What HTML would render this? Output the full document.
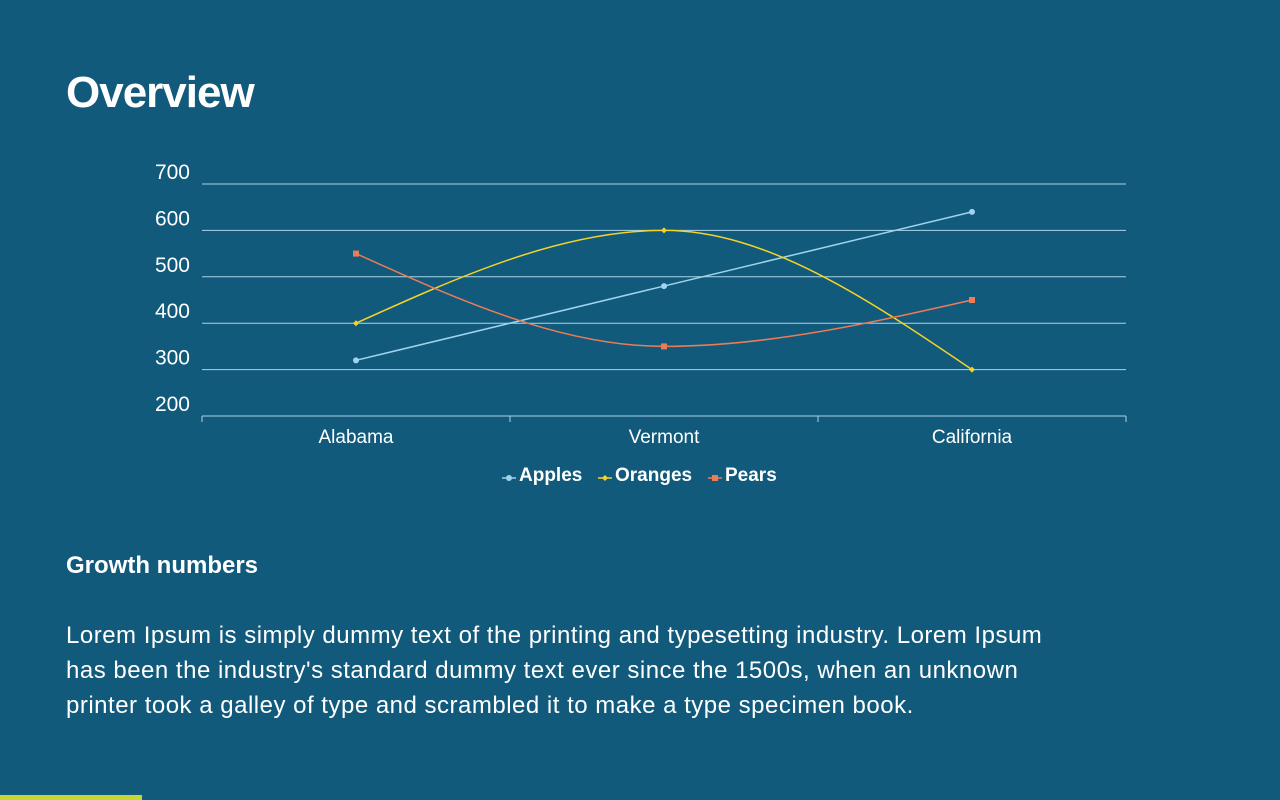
<!DOCTYPE html>
<html><head><meta charset="utf-8"><style>
html,body{margin:0;padding:0}
body{width:1280px;height:800px;background:#115a7b;position:relative;overflow:hidden;font-family:"Liberation Sans",sans-serif;color:#fff}
h1{position:absolute;left:66px;top:68px;margin:0;font-size:44px;font-weight:bold;letter-spacing:-1px}
h2{position:absolute;left:66px;top:552px;margin:0;font-size:24px;font-weight:bold}
p{position:absolute;left:66px;top:618px;margin:0;font-size:24px;line-height:35px;width:1200px;white-space:nowrap;letter-spacing:0.5px}
#bar{position:absolute;left:0;top:795px;width:142px;height:5px;background:#c5d82f}
svg{position:absolute;left:0;top:0}
</style></head><body>
<h1>Overview</h1>
<svg id="chart" width="1280" height="520"></svg>
<h2>Growth numbers</h2>
<p>Lorem Ipsum is simply dummy text of the printing and typesetting industry. Lorem Ipsum<br>has been the industry's standard dummy text ever since the 1500s, when an unknown<br>printer took a galley of type and scrambled it to make a type specimen book.</p>
<div id="bar"></div>
<script>
const categories=["Alabama","Vermont","California"];
const apples=[320,480,640];
const oranges=[400,600,300];
const pears=[550,350,450];
const yTicks=[200,300,400,500,600,700];
const seriesNames=["Apples","Oranges","Pears"];
const NS="http://www.w3.org/2000/svg";
const svg=document.getElementById('chart');
const L=202,R=1126,Y0=416,Y1=184,ymin=200,ymax=700;
const bw=(R-L)/categories.length;
const x=i=>L+bw*(i+0.5);
const y=v=>Y0-(v-ymin)/(ymax-ymin)*(Y0-Y1);
function mk(t,a,p){const e=document.createElementNS(NS,t);for(const k in a)e.setAttribute(k,a[k]);(p||svg).appendChild(e);return e;}
yTicks.forEach(v=>{
  const g=mk('line',{x1:L,x2:R,y1:y(v),y2:y(v),stroke:'#a9d4e8','stroke-width':1});
  
  
  const t=mk('text',{x:190,y:y(v)-5,'text-anchor':'end','font-size':21,fill:'#fff','font-family':'Liberation Sans, sans-serif'});
  t.textContent=v;
  
  
});
for(let i=0;i<=categories.length;i++){
  const tk=mk('line',{x1:L+bw*i,x2:L+bw*i,y1:Y0,y2:Y0+6,stroke:'#a9d4e8'});
  
  
}
categories.forEach((c,i)=>{
  const t=mk('text',{x:x(i),y:443,'text-anchor':'middle','font-size':19,fill:'#fff','font-family':'Liberation Sans, sans-serif'});
  t.textContent=c;
  
  
});
function monotone(pts){
  const n=pts.length,d=[],m=[];
  for(let i=0;i<n-1;i++)d.push((pts[i+1][1]-pts[i][1])/(pts[i+1][0]-pts[i][0]));
  for(let i=0;i<n;i++){
    if(i==0)m.push(d[0]);else if(i==n-1)m.push(d[n-2]);
    else m.push(d[i-1]*d[i]<=0?0:(d[i-1]+d[i])/2);
  }
  if(n>2){ m[0]=(3*d[0]-m[1])/2; m[n-1]=(3*d[n-2]-m[n-2])/2; }
  let s='M'+pts[0][0]+','+pts[0][1];
  for(let i=0;i<n-1;i++){
    const h=(pts[i+1][0]-pts[i][0])/3;
    s+=' C'+(pts[i][0]+h)+','+(pts[i][1]+m[i]*h)+' '+(pts[i+1][0]-h)+','+(pts[i+1][1]-m[i+1]*h)+' '+pts[i+1][0]+','+pts[i+1][1];
  }
  return s;
}
const colors=['#9fd3ee','#f5d327','#ec7c55'];
[apples,oranges,pears].forEach((data,si)=>{
  const pts=data.map((v,i)=>[x(i),y(v)]);
  const p=mk('path',{d:monotone(pts),fill:'none',stroke:colors[si],'stroke-width':1.5});
  
  
  pts.forEach(([px,py])=>{
    let m;
    if(si==0)m=mk('circle',{cx:px,cy:py,r:3,fill:colors[si]});
    else if(si==1)m=mk('path',{d:`M${px},${py-3}L${px+3},${py}L${px},${py+3}L${px-3},${py}Z`,fill:colors[si]});
    else m=mk('rect',{x:px-3,y:py-3,width:6,height:6,fill:colors[si]});
    
    
  });
});
const legX=[502,598,708];
seriesNames.forEach((n,i)=>{
  const g=mk('g',{});
  
  
  const lx=legX[i];
  mk('line',{x1:lx,x2:lx+14,y1:478,y2:478,stroke:colors[i],'stroke-width':1.5},g);
  if(i==0)mk('circle',{cx:lx+7,cy:478,r:3,fill:colors[i]},g);
  else if(i==1)mk('path',{d:`M${lx+7},475L${lx+10},478L${lx+7},481L${lx+4},478Z`,fill:colors[i]},g);
  else mk('rect',{x:lx+4,y:475,width:6,height:6,fill:colors[i]},g);
  const t=mk('text',{x:lx+17,y:481,'font-size':19,'font-weight':'bold',fill:'#fff','font-family':'Liberation Sans, sans-serif'},g);
  t.textContent=n;
});
</script>
</body></html>
